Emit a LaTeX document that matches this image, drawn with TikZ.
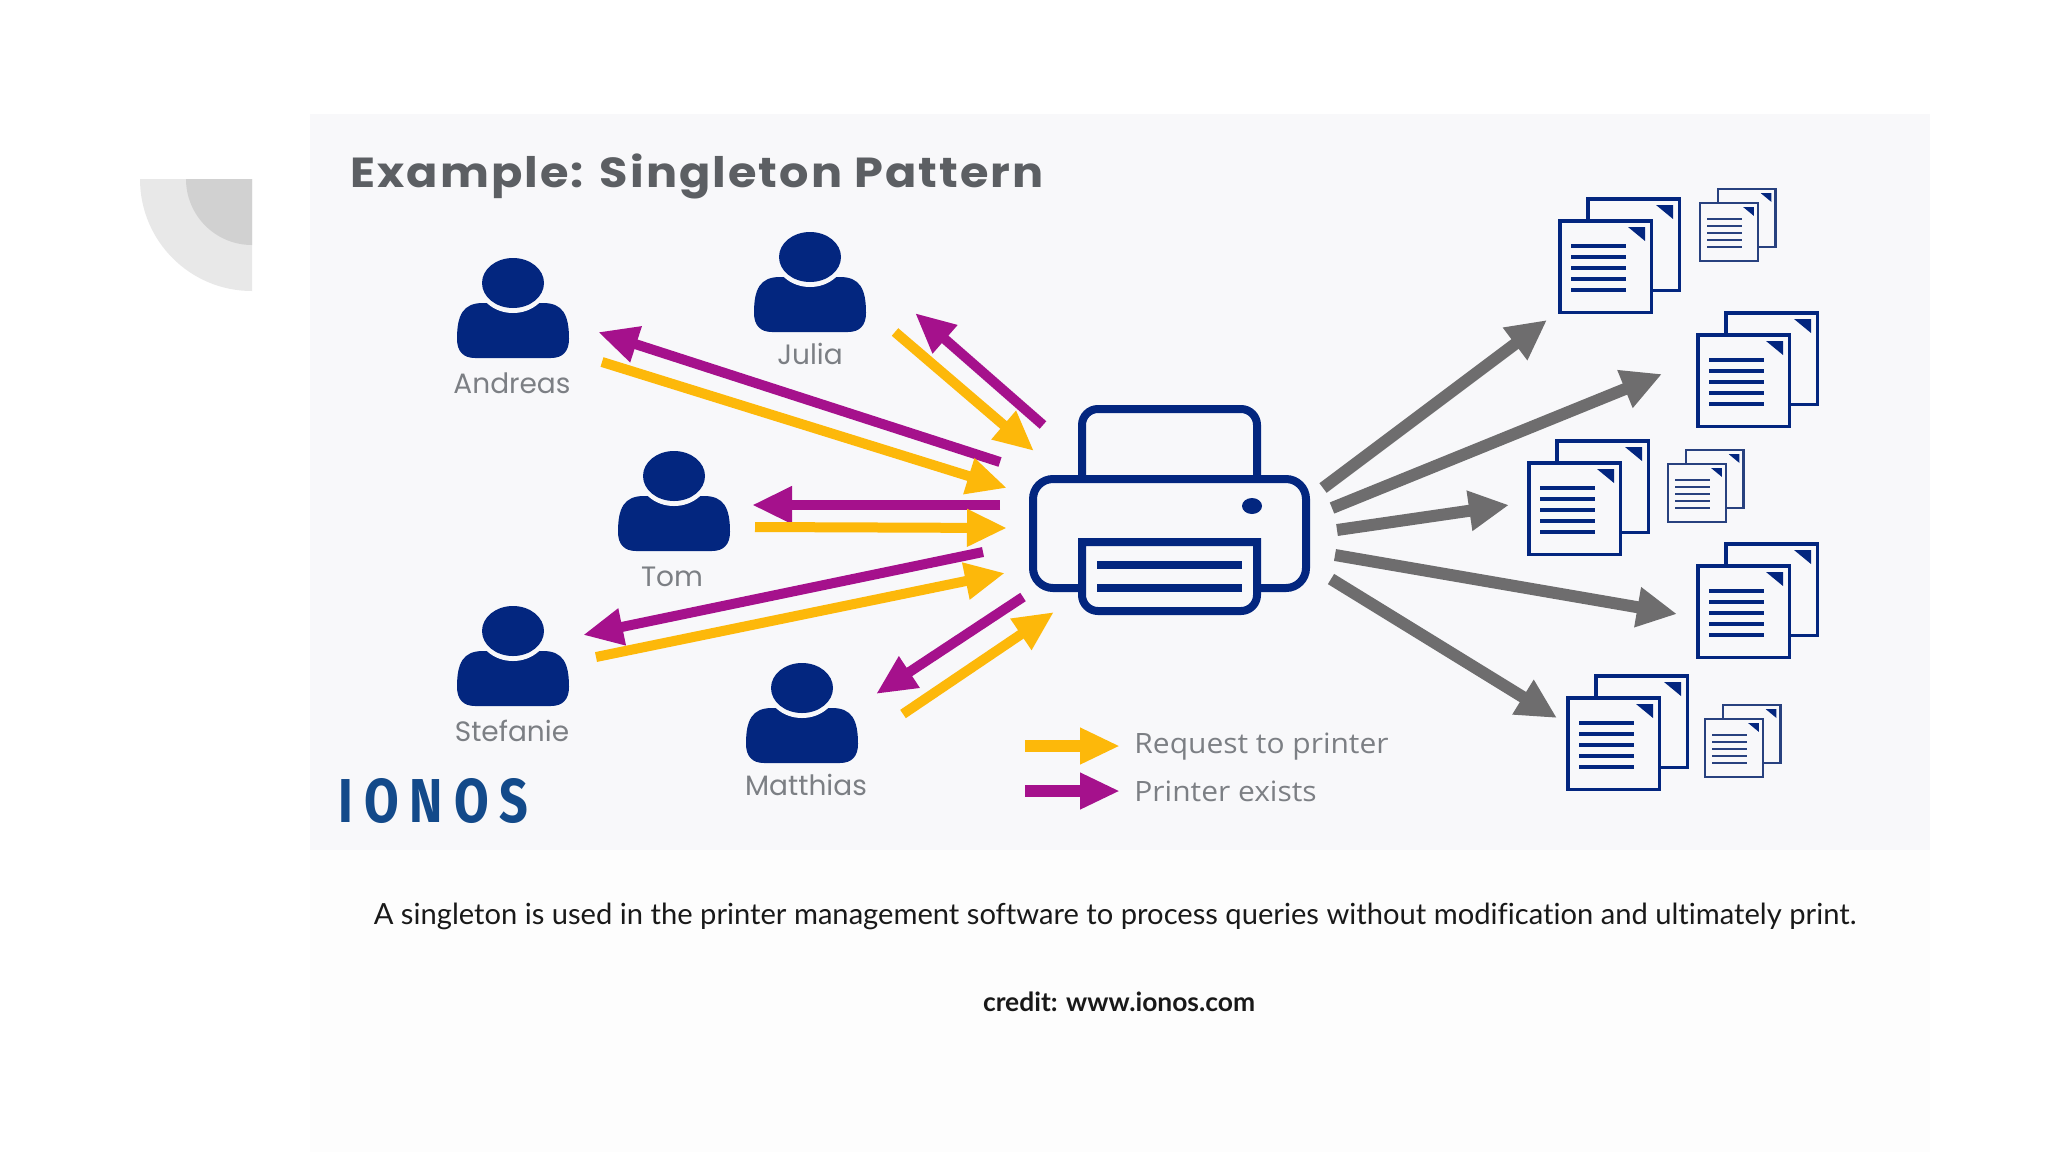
\documentclass[tikz,border=0pt]{standalone}
\usepackage{fontspec}
\usetikzlibrary{arrows.meta}
\newfontfamily\titlefont{Poppins}
\newfontfamily\titlewide[LetterSpace=4.5]{Poppins}
\newfontfamily\legendfont{Open Sans}
\newfontfamily\capfont[Ligatures={NoCommon}]{Lato}
\newfontfamily\logofont[LetterSpace=22]{Fira Sans}
\definecolor{panelc}{HTML}{F8F8FA}
\definecolor{lowpanel}{HTML}{FDFDFD}
\definecolor{navy}{HTML}{03267F}
\definecolor{yell}{HTML}{FDB80A}
\definecolor{purp}{HTML}{A5118C}
\definecolor{grayar}{HTML}{6E6D6E}
\definecolor{txtgray}{HTML}{7C7F84}
\definecolor{titlegray}{HTML}{5C5F63}
\definecolor{logoc}{HTML}{134A8A}
\tikzset{
  x=0.5pt,y=-0.5pt,
  req/.style={draw=yell,line width=5pt,-{Triangle[length=20pt,width=17.5pt]}},
  exists/.style={draw=purp,line width=5pt,-{Triangle[length=20pt,width=17.5pt]}},
  output/.style={draw=grayar,line width=6pt,-{Triangle[length=20pt,width=19pt]}},
  legreq/.style={draw=yell,line width=6pt,-{Triangle[length=20pt,width=17pt]}},
  legexists/.style={draw=purp,line width=6pt,-{Triangle[length=20pt,width=17pt]}},
  person/.style={text=txtgray,font=\titlefont\fontsize{14}{16}\selectfont,anchor=base,inner sep=0pt},
  legtext/.style={text=txtgray,font=\legendfont\fontsize{14}{16}\selectfont,anchor=west,inner sep=0pt,xscale=1.07,transform shape},
  prn/.style={draw=navy,line width=4pt},
}
\newcommand{\conn}[4]{%
  \coordinate (#1a) at (#3);\coordinate (#1b) at (#4);
  \draw[#2] (#1a) -- (#1b);}
\newcommand{\persona}[7]{% head x, head y, name, text, label x, label baseline y
  \begin{scope}[shift={(#1,#2)}]
    \fill[navy] (-56,56) .. controls (-56,32) and (-50,20) .. (-30,20) -- (30,20)
      .. controls (50,20) and (56,32) .. (56,56)
      .. controls (56,68) and (50,75) .. (38,75) -- (-38,75)
      .. controls (-50,75) and (-56,68) .. (-56,56) -- cycle;
    \fill[panelc] (0,0) circle[x radius=17.5pt,y radius=15pt];
    \fill[navy] (0,0) circle[x radius=15.5pt,y radius=12.5pt];
  \end{scope}
  \node[person] (#3) at (#5,#6) {#4};}
\newcommand{\mydoc}[5]{% x y scale strokewidth colour
  \begin{scope}[shift={(#1,#2)},scale=#3]
    \draw[#5,line width=#4,fill=panelc] (29.75,-20.25) rectangle (121.25,71.25);
    \fill[navy] (98,-14) -- (115,-14) -- (115,0) -- cycle;
    \draw[#5,line width=#4,fill=panelc] (1.75,1.75) rectangle (93.25,93.25);
    \fill[navy] (70,8) -- (87,8) -- (87,22) -- cycle;
    \foreach \yy in {27,38,49,60,71}
      \draw[#5,line width=#4] (13,\yy) -- (68,\yy);
  \end{scope}}
\begin{document}
\begin{tikzpicture}
\useasboundingbox (0,0) rectangle (2048,1152);
\fill[white] (0,0) rectangle (2048,1152);
% faint lower panel and panel
\fill[lowpanel] (310,850) rectangle (1930,1152);
\fill[panelc] (310,114) rectangle (1930,850);
% corner ornament
\fill[black!9] (140,179) .. controls (140,241) and (190,291) .. (252,291) -- (252,179) -- cycle;
\fill[black!18] (186,179) .. controls (186,215.5) and (215.5,245) .. (252,245) -- (252,179) -- cycle;
% title
\node[anchor=base west,inner sep=0pt,text=titlegray,font=\titlewide\bfseries\fontsize{21}{25}\selectfont,xscale=1.1,transform shape] (title) at (350,187) {Example: Singleton Pattern};
% people
\persona{513}{283}{andreas}{Andreas}{512}{393}{}
\persona{810}{257}{julia}{Julia}{810}{364}{}
\persona{674}{476}{tom}{Tom}{672}{586}{}
\persona{513}{631}{stefanie}{Stefanie}{512}{741}{}
\persona{802}{688}{matthias}{Matthias}{806}{795}{}
% logo
\node[anchor=base west,inner sep=0pt,text=logoc,font=\logofont\bfseries\fontsize{31}{33}\selectfont,xscale=.81,transform shape] (logo) at (338,822) {IONOS};
% arrows left
\conn{ap}{exists}{1000,462}{598,332}
\conn{ay}{req}{602,362}{1007,488}
\conn{jp}{exists}{1043,425}{915,313}
\conn{jy}{req}{895,332}{1034,451}
\conn{tp}{exists}{1000,505}{752,505}
\conn{ty}{req}{755,527}{1007,528}
\conn{sp}{exists}{983,552}{583,635}
\conn{sy}{req}{596,657}{1005,573}
\conn{mp}{exists}{1023,597}{876,694}
\conn{my}{req}{903,714}{1054,612}
% arrows right
\conn{g1}{output}{1323,488}{1547,320}
\conn{g2}{output}{1332,508}{1662,374}
\conn{g3}{output}{1337,530}{1509,505}
\conn{g4}{output}{1335,555}{1677,614}
\conn{g5}{output}{1331,579}{1557,718}
% printer
\draw[prn,rounded corners=8pt] (1082,480) -- (1082,409) -- (1257,409) -- (1257,480);
\draw[prn,rounded corners=10pt] (1082,588) -- (1033,588) -- (1033,479) -- (1306,479) -- (1306,588) -- (1257,588);
\draw[prn,fill=panelc] (1082,542) [rounded corners=8pt] -- (1082,611) -- (1257,611) [sharp corners] -- (1257,542) -- cycle;
\draw[navy,line width=3.6pt] (1097,565) -- (1242,565);
\draw[navy,line width=3.6pt] (1097,588) -- (1242,588);
\fill[navy] (1252,506) circle[x radius=5pt,y radius=4pt];
% documents
\mydoc{1558}{219}{1}{1.75pt}{navy}
\mydoc{1696}{333}{1}{1.75pt}{navy}
\mydoc{1527}{461}{1}{1.75pt}{navy}
\mydoc{1696}{564}{1}{1.75pt}{navy}
\mydoc{1566}{696}{1}{1.75pt}{navy}
\mydoc{1699}{202}{.63}{1.2pt}{navy!70!gray}
\mydoc{1667}{463}{.63}{1.2pt}{navy!70!gray}
\mydoc{1704}{718}{.63}{1.2pt}{navy!70!gray}
% legend
\conn{lr}{legreq}{1025,746}{1120,746}
\conn{le}{legexists}{1025,791}{1120,791}
\node[legtext] (legr) at (1134,747) {Request to printer};
\node[legtext] (lege) at (1134,791) {Printer exists};
% caption
\node[text=black!90,font=\capfont\fontsize{14.57}{18}\selectfont,inner sep=0pt] (cap) at (1115,916) {A singleton is used in the printer management software to process queries without modification and ultimately print.};
\node[text=black!90,font=\capfont\bfseries\fontsize{13.2}{16}\selectfont,inner sep=0pt] (credit) at (1119,1002) {credit: www.ionos.com};
\end{tikzpicture}
\end{document}
